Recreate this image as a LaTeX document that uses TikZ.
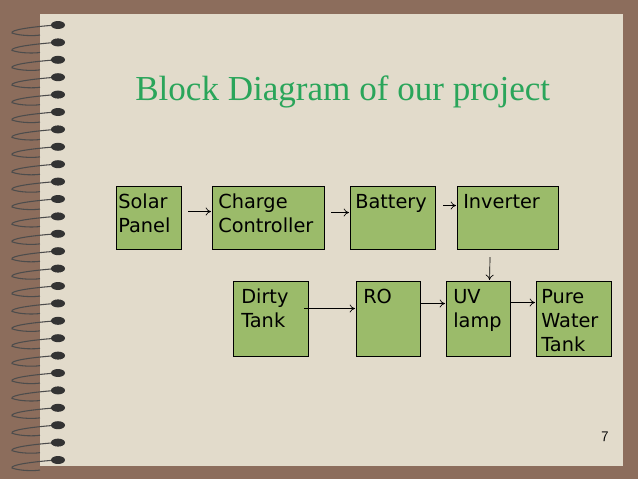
\documentclass[tikz,border=0pt]{standalone}
\usepackage{fontspec}
\setmainfont{Liberation Serif}
\newfontfamily\boxfont{DejaVu Sans}
\usetikzlibrary{calc,arrows.meta}
\definecolor{bgbrown}{HTML}{8C6D5C}
\definecolor{paper}{HTML}{E2DBCB}
\definecolor{boxgreen}{HTML}{9BBB6A}
\definecolor{titlegreen}{HTML}{2AA55A}
\begin{document}
\begin{tikzpicture}[x=0.75pt,y=-0.75pt,
  blk/.style={draw=black,fill=boxgreen,line width=0.8pt,inner sep=0,anchor=north west},
  txt/.style={anchor=north west,align=left,inner sep=0,font=\boxfont\fontsize{14.5}{18}\selectfont},
  arr/.style={-{To[length=4pt,width=6pt]},line width=0.5pt}]
\useasboundingbox (0,0) rectangle (638,479);
\fill[bgbrown] (0,0) rectangle (638,479);
\fill[paper] (40,14) rectangle (623,466);
% spiral rings
\foreach \i in {0,...,25}{
  \pgfmathsetmacro{\yy}{25+\i*17.4}
  \draw[gray!60!black,line width=0.8pt] (56,\yy) .. controls (30,\yy+2) and (10,\yy+5) .. (12,\yy+8) .. controls (20,\yy+11) and (35,\yy+11) .. (40,\yy+10);
  \fill[black!80] (58,\yy) ellipse (7 and 4);
}
\node[anchor=base west,inner sep=0,text=titlegreen,font=\fontsize{26.3}{30}\selectfont] (title) at (135,100) {Block Diagram of our project};
% boxes
\node[blk,minimum width=65*0.75pt,minimum height=63*0.75pt] (s) at (116,186) {};
\node[blk,minimum width=112*0.75pt,minimum height=63*0.75pt] (c) at (212,186) {};
\node[blk,minimum width=85*0.75pt,minimum height=63*0.75pt] (b) at (350,186) {};
\node[blk,minimum width=101*0.75pt,minimum height=63*0.75pt] (i) at (457,186) {};
\node[blk,minimum width=75*0.75pt,minimum height=75*0.75pt] (d) at (233,281) {};
\node[blk,minimum width=64*0.75pt,minimum height=75*0.75pt] (r) at (356,281) {};
\node[blk,minimum width=64*0.75pt,minimum height=75*0.75pt] (u) at (446,281) {};
\node[blk,minimum width=75*0.75pt,minimum height=75*0.75pt] (p) at (536,281) {};
% texts
\node[txt] (ts) at ($(s.north west)+(2,8)$) {Solar\\Panel};
\node[txt] (tc) at ($(c.north west)+(6,8)$) {Charge\\Controller};
\node[txt] (tb) at ($(b.north west)+(5,8)$) {Battery};
\node[txt] (ti) at ($(i.north west)+(6,8)$) {Inverter};
\node[txt] (td) at ($(d.north west)+(8,8)$) {Dirty\\Tank};
\node[txt] (tr) at ($(r.north west)+(7,8)$) {RO};
\node[txt] (tu) at ($(u.north west)+(7,8)$) {UV\\lamp};
\node[txt] (tp) at ($(p.north west)+(5,8)$) {Pure\\Water\\Tank};
% arrows
\draw[arr] ($(s.east)+(6,-6.5)$) -- ($(c.west)+(-1,-6.5)$);
\draw[arr] ($(c.east)+(6,-5.5)$) -- ($(b.west)+(-1,-5.5)$);
\draw[arr] ($(b.east)+(7,-12.5)$) -- ($(i.west)+(-1,-12.5)$);
\draw[arr] ($(i.south)+(-18,7)$) -- ($(u.north)+(11,-1)$);
\draw[arr] ($(d.east)+(-5,-10.5)$) -- ($(r.west)+(-1,-10.5)$);
\draw[arr] ($(r.east)+(0,-15.5)$) -- ($(u.west)+(-1,-15.5)$);
\draw[arr] ($(u.east)+(0,-16.5)$) -- ($(p.west)+(-1,-16.5)$);
\node[anchor=center,inner sep=0,font=\sffamily\fontsize{11}{13}\selectfont] (pg) at (605,437) {7};
\end{tikzpicture}
\end{document}
